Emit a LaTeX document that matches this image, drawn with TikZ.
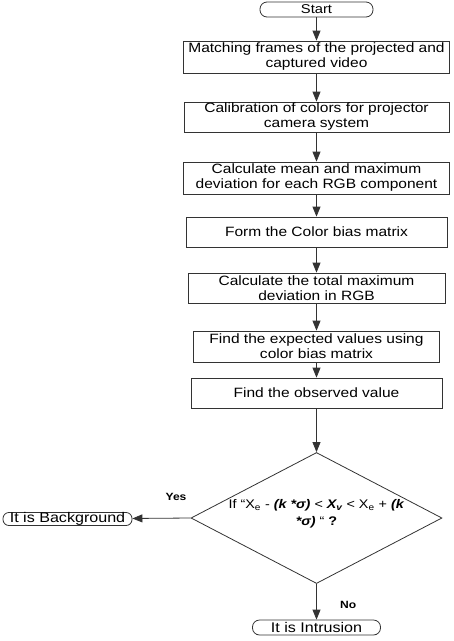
\documentclass[tikz,border=0pt]{standalone}
\usepackage{fontspec}
\setmainfont{Liberation Sans}[FakeStretch=1.15]
\usetikzlibrary{shapes.geometric,arrows.meta}
\tikzset{
 box/.style={draw=black!80,line width=0.8pt,align=center,inner sep=1pt,font=\fontsize{13.5}{15}\selectfont},
 term/.style={draw=black!80,line width=0.8pt,rounded corners=7pt,inner sep=0pt,font=\fontsize{14}{15}\selectfont},
 flow/.style={draw=black!80,line width=0.8pt,-{Triangle[length=10pt,width=8pt]}},
 lbl/.style={font=\bfseries\fontsize{10.5}{12}\selectfont},
}
\begin{document}
\begin{tikzpicture}[x=1pt,y=-1pt]
 \useasboundingbox (0,0) rectangle (454,641); %全体
 \node[term,minimum width=113,minimum height=15,font=\fontsize{12.8}{14}\selectfont] (start) at (316.5,9.5) {Start}; %開始
 \node[box,minimum width=266,minimum height=32] (match) at (316.5,57) {Matching frames of the projected and\\captured video}; %1
 \node[box,minimum width=265,minimum height=30] (calib) at (316.5,117) {Calibration of colors for projector\\camera system}; %2
 \node[box,minimum width=266,minimum height=32] (mean) at (316.5,178) {Calculate mean and maximum\\deviation for each RGB component}; %3
 \node[box,minimum width=261,minimum height=30] (bias) at (316.5,232) {Form the Color bias matrix}; %4
 \node[box,minimum width=257,minimum height=30] (total) at (316.5,288) {Calculate the total maximum\\deviation in RGB}; %5
 \node[box,minimum width=246,minimum height=31] (expect) at (316.5,346.5) {Find the expected values using\\color bias matrix}; %6
 \node[box,minimum width=251,minimum height=30] (observe) at (316.5,393) {Find the observed value}; %7
 \node[diamond,draw=black!80,line width=0.8pt,minimum width=251,minimum height=131,inner sep=0pt] (check) at (316.5,518) {}; %判定
 \node[align=center,inner sep=0pt,font=\fontsize{12.5}{17}\selectfont] (checktxt) at (316.5,514)
  {If “X\textsubscript{e} - \textbf{\textit{(k *σ)}} < \textbf{\textit{X\textsubscript{v}}} < X\textsubscript{e} + \textbf{\textit{(k}}\\
   \textbf{\textit{*σ)}} “ \textbf{?}}; %判定の文
 \node[term,minimum width=129,minimum height=13,rounded corners=6pt] (back) at (67.5,519) {It is Background}; %背景
 \node[term,minimum width=128,minimum height=15] (intr) at (316.5,627.5) {It is Intrusion}; %侵入

 \draw[flow] (start) -- (match);
 \draw[flow] (match) -- (calib);
 \draw[flow] (calib) -- (mean);
 \draw[flow] (mean) -- (bias);
 \draw[flow] (bias) -- (total);
 \draw[flow] (total) -- (expect);
 \draw[flow] (expect) -- (observe);
 \draw[flow] (observe) -- (check);
 \draw[flow] (check.west) -- (back) node[lbl,pos=0.25,above=14pt] {Yes};
 \draw[flow] (check.south) -- (intr) node[lbl,pos=0.6,right=20pt] {No};
\end{tikzpicture}
\end{document}
